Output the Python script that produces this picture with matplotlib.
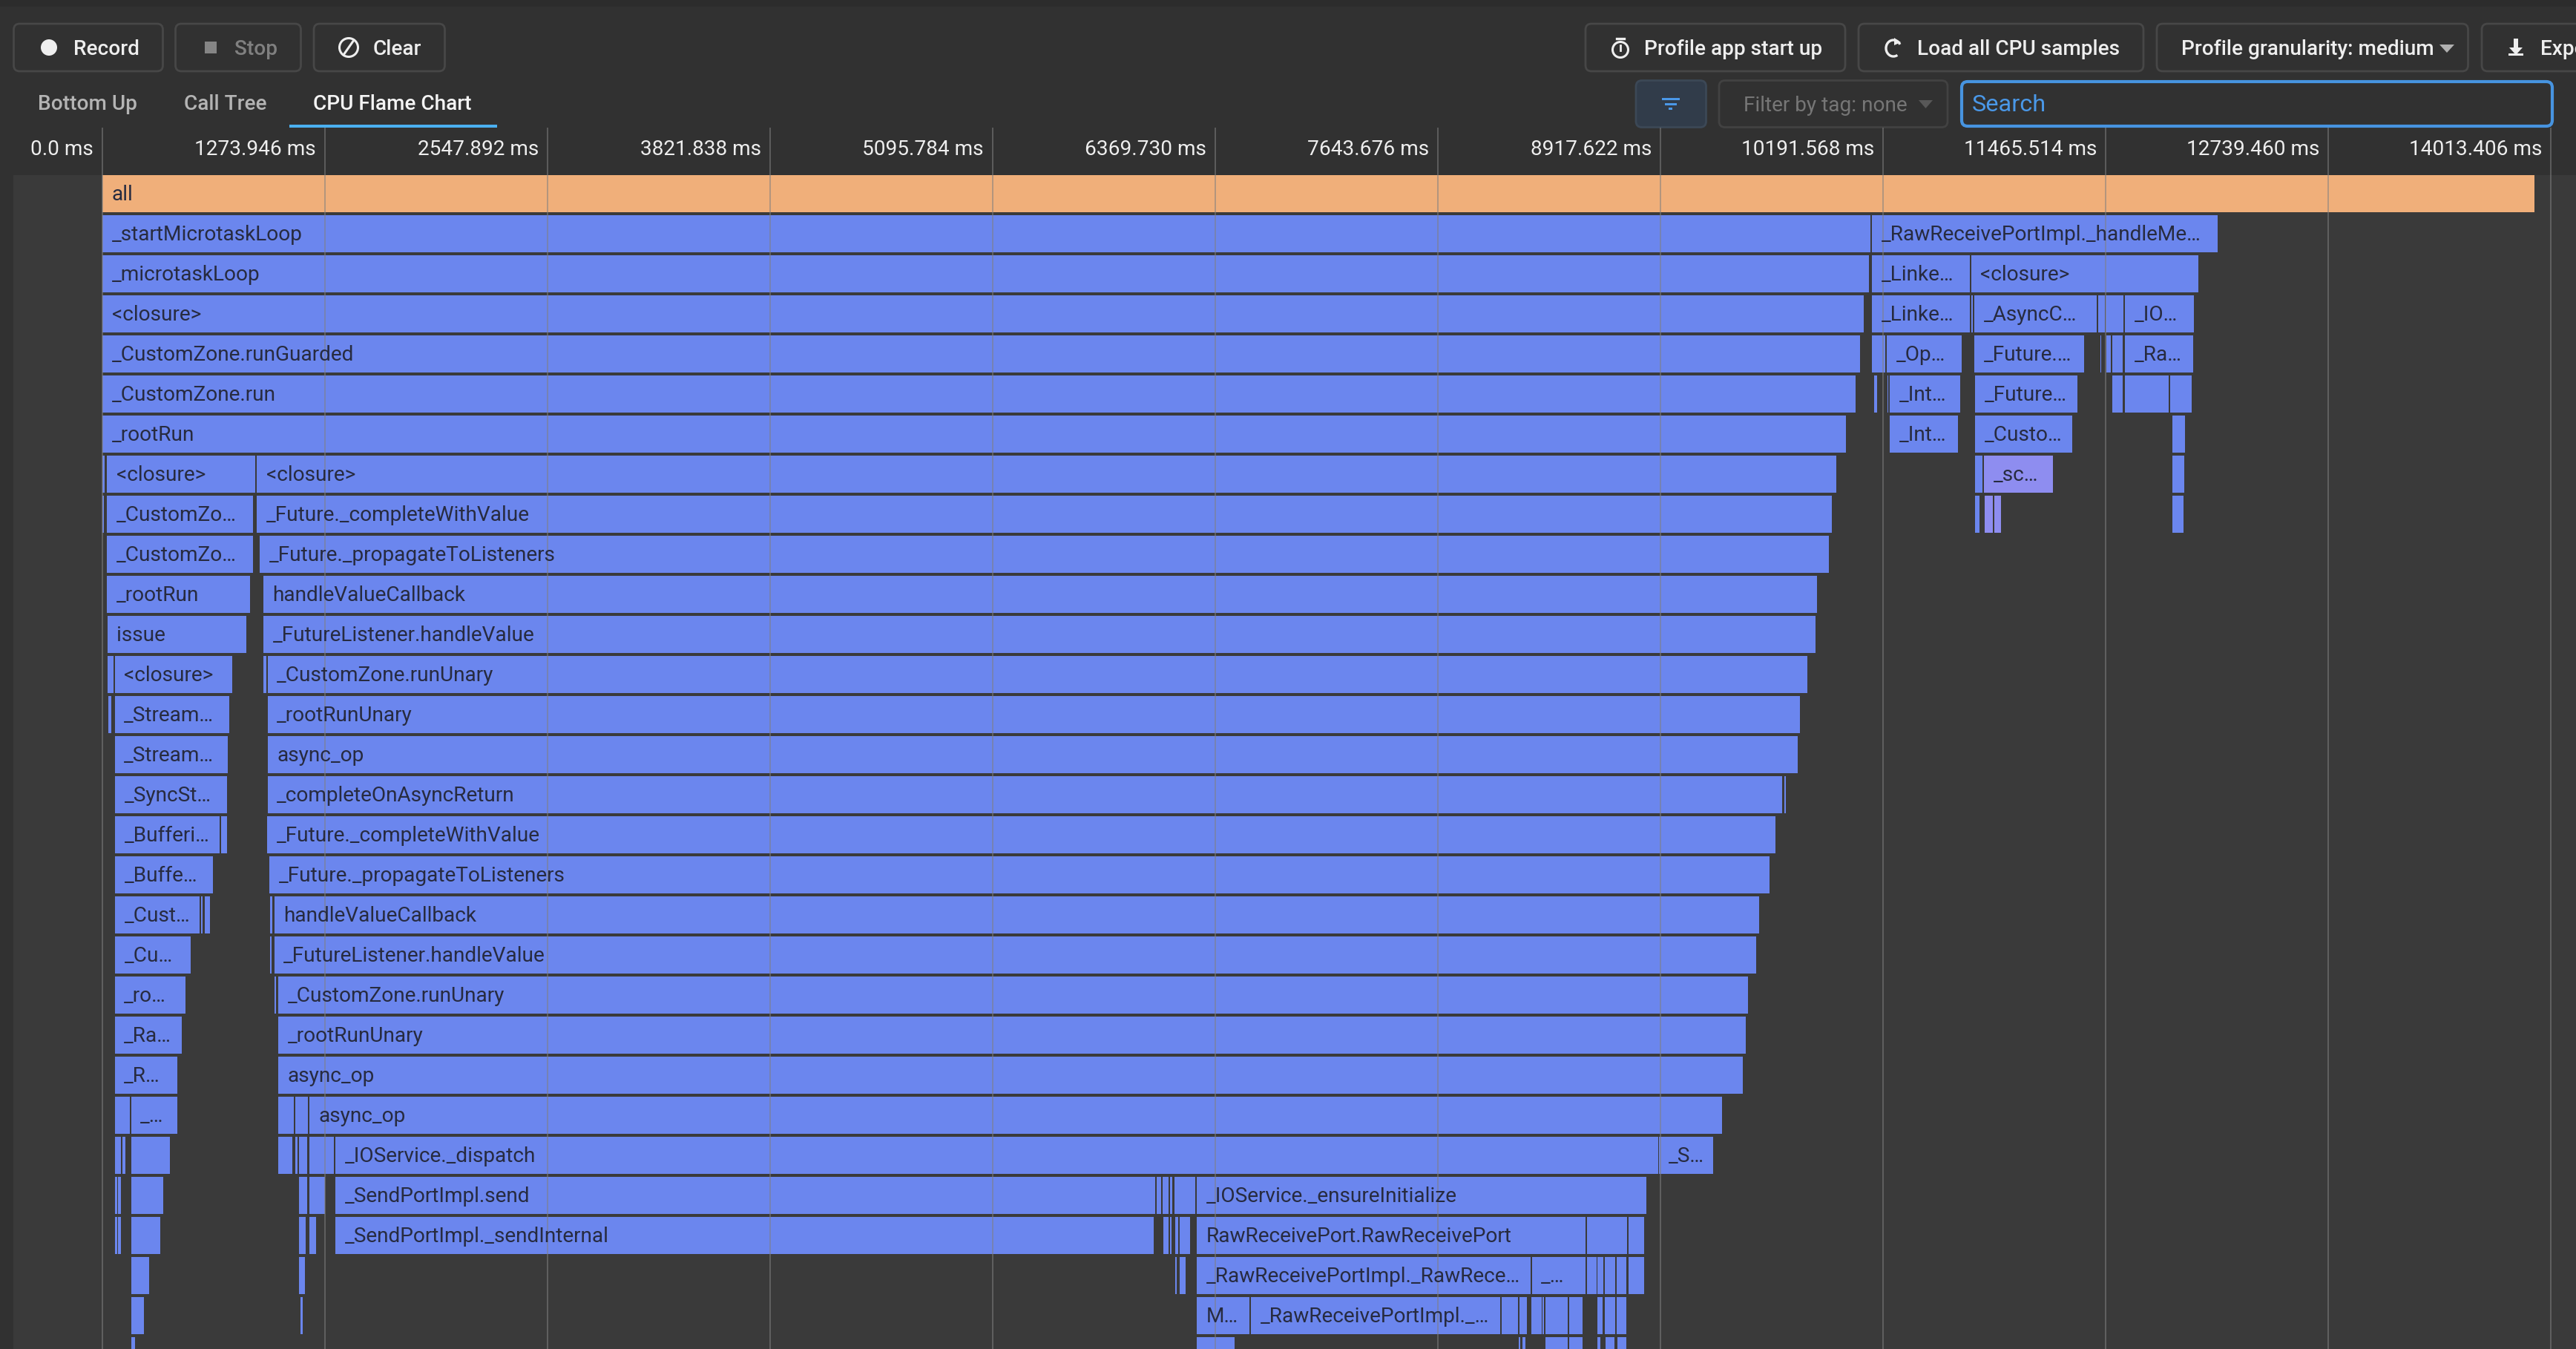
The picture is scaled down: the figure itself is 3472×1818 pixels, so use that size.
import matplotlib
matplotlib.use('Agg')
import matplotlib.pyplot as plt
from matplotlib.patches import FancyBboxPatch, Rectangle, Circle, Polygon

plt.rcParams['font.family'] = ['Roboto', 'DejaVu Sans']

# Time axis (ms)
time_ticks = [0.0, 1273.946, 2547.892, 3821.838, 5095.784, 6369.730, 7643.676,
              8917.622, 10191.568, 11465.514, 12739.460, 14013.406]

# Frames per stack depth: (start ms, end ms, name)
depth_00 = [(0, 13920, 'all')]
depth_01 = [(0, 10119.4, '_startMicrotaskLoop'), (10127.9, 12105.1, '_RawReceivePortImpl._handleMe…')]
depth_02 = [(0, 10110.9, '_microtaskLoop'), (10127.9, 10688.4, '_Linke…'), (10695.6, 11996.4, '<closure>')]
depth_03 = [(0, 10081.2, '<closure>'), (10127.9, 10688.4, '_Linke…'), (10695.6, 10705.4, ''),
            (10715.2, 11414.6, '_AsyncC…'), (11423.1, 11461.3, ''), (11465.6, 11567.5, ''),
            (11576.0, 11970.9, '_IO…')]
depth_04 = [(0, 10060.0, '_CustomZone.runGuarded'), (10127.9, 10204.3, ''), (10212.8, 10640.5, '_Op…'),
            (10713.9, 11342.4, '_Future.…'), (11434.6, 11440.1, ''), (11469.8, 11496.6, ''),
            (11505.1, 11561.9, ''), (11576.0, 11966.6, '_Ra…')]
depth_05 = [(0, 10036.2, '_CustomZone.run'), (10141.9, 10157.6, ''), (10215.0, 10223.0, ''),
            (10229.8, 10632.8, '_Int…'), (10718.2, 11304.2, '_Future…'), (11505.1, 11561.9, ''),
            (11576.0, 11825.2, ''), (11833.7, 11958.1, '')]
depth_06 = [(0, 9979.3, '_rootRun'), (10229.8, 10620.5, '_Int…'), (10718.2, 11276.2, '_Custo…'),
            (11847.7, 11919.9, '')]
depth_07 = [(0, 12.7, ''), (25.5, 874.8, '<closure>'), (883.3, 9924.1, '<closure>'),
            (10718.2, 10760.6, ''), (10769.1, 11164.0, '_sc…'), (11847.7, 11917.0, '')]
depth_08 = [(0, 8.5, ''), (25.5, 863.3, '_CustomZo…'), (883.3, 9898.6, '_Future._completeWithValue'),
            (10718.2, 10743.6, ''), (10773.4, 10818.0, ''), (10828.6, 10866.8, ''), (11847.7, 11912.7, '')]
depth_09 = [(25.5, 860.8, '_CustomZo…'), (900.3, 9880.4, '_Future._propagateToListeners')]
depth_10 = [(26.8, 843.8, '_rootRun'), (921.5, 9813.7, 'handleValueCallback')]
depth_11 = [(29.7, 822.5, 'issue'), (921.5, 9805.2, '_FutureListener.handleValue')]
depth_12 = [(29.7, 62.4, ''), (70.9, 743.1, '<closure>'), (921.5, 937.2, ''),
            (945.7, 9758.5, '_CustomZone.runUnary')]
depth_13 = [(35.2, 51.0, ''), (70.9, 727.4, '_Stream…'), (945.7, 9714.7, '_rootRunUnary')]
depth_14 = [(70.9, 717.7, '_Stream…'), (945.7, 9703.3, 'async_op')]
depth_15 = [(72.2, 712.1, '_SyncSt…'), (945.7, 9612.8, '_completeOnAsyncReturn'), (9628.1, 9635.3, '')]
depth_16 = [(72.2, 669.7, '_Bufferi…'), (678.2, 712.1, ''), (944.0, 9575.9, '_Future._completeWithValue')]
depth_17 = [(72.2, 631.5, '_Buffe…'), (955.5, 9540.6, '_Future._propagateToListeners')]
depth_18 = [(72.2, 557.6, '_Cust…'), (566.1, 574.6, ''), (586.0, 617.0, ''), (961.0, 971.2, ''),
            (983.9, 9482.4, 'handleValueCallback')]
depth_19 = [(72.2, 504.1, '_Cu…'), (961.0, 968.2, ''), (983.9, 9464.2, '_FutureListener.handleValue')]
depth_20 = [(70.9, 475.6, '_ro…'), (985.2, 993.7, ''), (1006.4, 9420.1, '_CustomZone.runUnary')]
depth_21 = [(70.9, 454.4, '_Ra…'), (1007.7, 9404.7, '_rootRunUnary')]
depth_22 = [(70.9, 428.9, '_R…'), (1007.7, 9389.0, 'async_op')]
depth_23 = [(70.9, 155.8, ''), (164.3, 428.9, '_…'), (1007.7, 1096.9, ''), (1104.1, 1177.6, ''),
            (1184.8, 9268.0, 'async_op')]
depth_24 = [(70.9, 104.9, ''), (113.4, 131.6, ''), (164.3, 386.4, ''), (1007.7, 1088.4, ''),
            (1104.1, 1116.8, ''), (1124.0, 1173.3, ''), (1184.8, 1326.2, ''),
            (1333.4, 8904.9, '_IOService._dispatch'), (8909.2, 9219.2, '_S…')]
depth_25 = [(70.9, 84.9, ''), (90.5, 104.9, ''), (164.3, 349.5, ''), (1124.0, 1172.0, ''),
            (1184.8, 1274.0, ''), (1333.4, 6025.8, '_SendPortImpl.send'), (6034.3, 6059.8, ''),
            (6068.2, 6103.5, ''), (6112.0, 6123.5, ''), (6136.2, 6256.4, ''),
            (6263.6, 8838.2, '_IOService._ensureInitialize')]
depth_26 = [(70.9, 84.9, ''), (90.5, 104.9, ''), (164.3, 331.2, ''), (1124.0, 1162.3, ''),
            (1184.8, 1223.0, ''), (1333.4, 6017.3, '_SendPortImpl._sendInternal'), (6072.5, 6102.2, ''),
            (6110.7, 6119.2, ''), (6140.4, 6157.4, ''), (6165.9, 6225.4, ''),
            (6263.6, 8490.0, 'RawReceivePort.RawReceivePort'), (8498.5, 8726.6, ''), (8735.1, 8824.2, '')]
depth_27 = [(165.6, 266.3, ''), (1124.0, 1158.0, ''), (6140.4, 6148.9, ''), (6165.9, 6199.9, ''),
            (6263.6, 8173.2, '_RawReceivePortImpl._RawRece…'), (8181.8, 8490.0, '_…'),
            (8498.5, 8551.2, ''), (8558.0, 8590.7, ''), (8599.2, 8658.6, ''), (8667.1, 8722.3, ''),
            (8735.1, 8824.2, '')]
depth_28 = [(165.6, 237.8, ''), (1133.8, 1146.6, ''), (6263.6, 6566.4, 'M…'),
            (6574.9, 8000.4, '_RawReceivePortImpl._…'), (8007.6, 8102.3, ''), (8110.8, 8153.3, ''),
            (8180.0, 8238.2, ''), (8242.5, 8251.0, ''), (8259.4, 8386.8, ''), (8395.3, 8471.8, ''),
            (8558.0, 8586.4, ''), (8599.2, 8658.6, ''), (8667.1, 8722.3, '')]
depth_29 = [(165.6, 186.8, ''), (6263.6, 6480.2, ''), (8107.9, 8115.1, ''), (8129.0, 8143.5, ''),
            (8259.4, 8386.8, ''), (8395.3, 8471.8, ''), (8558.0, 8575.0, ''), (8603.4, 8654.4, ''),
            (8671.4, 8722.3, '')]

depths = [depth_00, depth_01, depth_02, depth_03, depth_04, depth_05, depth_06, depth_07, depth_08,
          depth_09, depth_10, depth_11, depth_12, depth_13, depth_14, depth_15, depth_16, depth_17,
          depth_18, depth_19, depth_20, depth_21, depth_22, depth_23, depth_24, depth_25, depth_26,
          depth_27, depth_28, depth_29]

# Frames from the native tag, shown in purple (start ms)
native_starts = [10769.1, 10773.4, 10828.6]

BG = '#313131'
CHART_BG = '#3a3a3a'
BLUE = '#6b86ee'
PURPLE = '#8e8df0'
ORANGE = '#f0af7a'
BORDER = '#474747'
W, H = 3472, 1818
MS_PER_PX = 1273.946 / 300
LEFT_PX = 138
TOP_PX = 236
ROW_PX = 54

fig = plt.figure(figsize=(W / 100, H / 100), dpi=100, facecolor=BG)

# Toolbar layer in screenshot pixels
ui = fig.add_axes([0, 0, 1, 1])
ui.set_xlim(0, W)
ui.set_ylim(H, 0)
ui.axis('off')


def px(size):
    return size * 0.72


def button(x0, x1, y0=32, y1=96, face='none', edge=BORDER, lw=2.0):
    ui.add_patch(FancyBboxPatch((x0, y0), x1 - x0, y1 - y0, boxstyle='round,pad=0,rounding_size=8',
                                facecolor=face, edgecolor=edge, linewidth=lw))


def label(x, y, text, color='#eeeeee', size=28, weight=500):
    ui.text(x, y, text, color=color, fontsize=px(size), fontweight=weight, ha='left', va='center_baseline')


ui.add_patch(Rectangle((0, 0), W, 9, facecolor='#2c2c2c', edgecolor='none'))
ui.add_patch(Rectangle((18, TOP_PX), W - 18, H - TOP_PX, facecolor=CHART_BG, edgecolor='none'))

# Left buttons
button(18.5, 219.5)
ui.add_patch(Circle((66, 64), 11, facecolor='#eeeeee', edgecolor='none'))
label(99, 63.5, 'Record')
button(236.5, 405.5)
ui.add_patch(Rectangle((275.5, 56), 16.5, 16, facecolor='#858585', edgecolor='none'))
label(316, 63.5, 'Stop', color='#808080')
button(423, 599.5)
ui.add_patch(Circle((470, 64), 12.5, facecolor='none', edgecolor='#eeeeee', linewidth=2.2))
ui.plot([463, 477], [74, 54], color='#eeeeee', lw=2.2)
label(502.5, 63.5, 'Clear')

# Tabs
label(51, 137.5, 'Bottom Up', color='#b4b4b4')
label(248, 137.5, 'Call Tree', color='#b4b4b4')
label(422, 137.5, 'CPU Flame Chart', color='#f4f4f4')
ui.add_patch(Rectangle((390, 168), 280, 4, facecolor='#4bb0f0', edgecolor='none'))

# Right buttons
button(2137, 2487)
ui.add_patch(Circle((2184, 67), 10.5, facecolor='none', edgecolor='#eeeeee', linewidth=2.2))
ui.plot([2184, 2184], [61, 68], color='#eeeeee', lw=2)
ui.plot([2179, 2189], [52, 52], color='#eeeeee', lw=2.4)
label(2216.5, 63.5, 'Profile app start up')
button(2505, 2889)
ui.add_patch(matplotlib.patches.Arc((2552, 65), 20, 22, theta1=60, theta2=330, edgecolor='#eeeeee', linewidth=2.4))
ui.add_patch(Polygon([[2553, 51], [2562, 57], [2553, 61]], facecolor='#eeeeee', edgecolor='none'))
label(2584, 63.5, 'Load all CPU samples')
button(2907, 3326.5)
label(2940, 63.5, 'Profile granularity: medium')
ui.add_patch(Polygon([[3288, 60], [3308, 60], [3298, 71]], facecolor='#b0b0b0', edgecolor='none'))
button(3345, 3520)
ui.add_patch(Polygon([[3382, 64], [3400, 64], [3391, 74]], facecolor='#eeeeee', edgecolor='none'))
ui.add_patch(Rectangle((3388, 52), 6, 13, facecolor='#eeeeee', edgecolor='none'))
ui.add_patch(Rectangle((3381, 72), 20, 3, facecolor='#eeeeee', edgecolor='none'))
label(3424, 63.5, 'Export')

# Filter row
button(2205, 2299.5, 108.5, 171.5, face='#313c4a', edge='#3c4856')
ui.add_patch(Rectangle((2240, 132), 23.5, 3, facecolor='#4a98e8', edgecolor='none'))
ui.add_patch(Rectangle((2244, 139), 15.5, 3, facecolor='#4a98e8', edgecolor='none'))
ui.add_patch(Rectangle((2249, 145), 5, 3, facecolor='#4a98e8', edgecolor='none'))
button(2317, 2625, 108.5, 171.5, edge='#424242')
label(2350, 140, 'Filter by tag: none', color='#767676', weight=400)
ui.add_patch(Polygon([[2586, 135], [2605, 135], [2595.5, 146]], facecolor='#585858', edgecolor='none'))
button(2644, 3440, 110, 170, edge='#4794e0', lw=3.0)
label(2658, 139, 'Search', color='#4a98e8', size=32.5, weight=400)

# Flame chart layer: x is ms, y is stack depth
ax = fig.add_axes([0, 0, 1, 1], zorder=2)
ax.patch.set_visible(False)
ax.set_xlim(-LEFT_PX * MS_PER_PX, (W - LEFT_PX) * MS_PER_PX)
ax.set_ylim((H - TOP_PX) / ROW_PX, -TOP_PX / ROW_PX)
ax.axis('off')

for depth, frames in enumerate(depths):
    for start, end, name in frames:
        color = BLUE
        if depth == 0:
            color = ORANGE
        elif start in native_starts:
            color = PURPLE
        ax.barh(depth, end - start, height=50 / ROW_PX, left=start, align='edge', color=color, linewidth=0)
        if name:
            ax.annotate(name, (start, depth + 34 / ROW_PX), xytext=(px(12.5), 0), textcoords='offset points',
                        color='#272b40', fontsize=px(28), va='baseline', ha='left', zorder=4)

# Grid lines run from the tab row down through the frames
ax.vlines(time_ticks, -64 / ROW_PX, (H - TOP_PX) / ROW_PX, color='#808080', alpha=0.55, linewidth=1.4, zorder=3)
for t in time_ticks:
    ax.annotate(f'{t:.3f} ms' if t else '0.0 ms', (t, -38 / ROW_PX), xytext=(px(-12), 0), textcoords='offset points',
                color='#eeeeee', fontsize=px(28), ha='right', va='center_baseline', annotation_clip=False)

fig.savefig('out.png', dpi=100, facecolor=BG)
